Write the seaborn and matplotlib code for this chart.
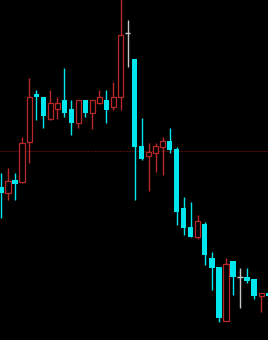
import numpy as np
import pandas as pd
import matplotlib
matplotlib.use("Agg")
import matplotlib.pyplot as plt
import seaborn as sns

# OHLC values (price units)
opens  = [153, 147, 160, 158, 198, 246, 243, 221, 231, 240, 231, 217, 240, 227, 237, 240, 233, 243, 307, 281, 194, 184, 187, 193, 199, 191, 132, 113, 103, 116, 82, 73, 19, 79, 63, 63, 61, 44, 47]
highs  = [167, 172, 167, 203, 262, 250, 243, 250, 243, 272, 240, 240, 240, 240, 250, 250, 258, 342, 320, 281, 222, 197, 197, 203, 212, 193, 143, 138, 125, 118, 88, 73, 82, 79, 72, 72, 61, 47, 47]
lows   = [122, 140, 140, 157, 177, 220, 212, 220, 221, 223, 205, 212, 223, 211, 236, 217, 230, 230, 273, 140, 180, 149, 168, 165, 187, 115, 105, 103, 101, 75, 50, 18, 19, 45, 32, 57, 41, 28, 44]
closes = [147, 159, 156, 197, 243, 243, 224, 237, 237, 227, 217, 240, 227, 240, 243, 230, 243, 305, 307, 193, 181, 188, 194, 199, 190, 128, 112, 103, 119, 85, 72, 22, 76, 63, 63, 59, 44, 47, 44]
ref_level = 189

df = pd.DataFrame({"open": opens, "high": highs, "low": lows, "close": closes})
df["idx"] = np.arange(len(df))

sns.set_style("dark", {"axes.facecolor": "black", "figure.facecolor": "black"})

fig = plt.figure(figsize=(2.68, 3.40), dpi=100)
ax = fig.add_axes([0, 0, 1, 1])
ax.set_facecolor("black")

CYAN = "#00e6ee"
RED = "#b82828"
GRAY = "#c8c8c8"
W = 0.74

ax.axhline(ref_level, color="#5e0c0c", lw=0.7, ls=(0, (2, 1)), zorder=1)

for _, r in df.iterrows():
    x, o, h, l, c = r["idx"], r["open"], r["high"], r["low"], r["close"]
    if o == c:
        col = GRAY
        ax.vlines(x, l, h, color=col, lw=1.0, zorder=2)
        ax.hlines(o, x - W / 2, x + W / 2, color=col, lw=1.0, zorder=3)
    elif c > o:
        ax.vlines(x, l, h, color=RED, lw=1.0, zorder=2)
        ax.bar(x, c - o, bottom=o, width=W, facecolor="black", edgecolor=RED, lw=0.9, zorder=3)
    else:
        ax.vlines(x, l, h, color=CYAN, lw=1.0, zorder=2)
        ax.bar(x, o - c, bottom=c, width=W, color=CYAN, lw=0, zorder=3)

step = 7.03
ax.set_xlim(-1 / step, 268 / step - 1 / step)
ax.set_ylim(0, 340)
ax.axis("off")
fig.savefig("out.png", dpi=100, facecolor="black")
